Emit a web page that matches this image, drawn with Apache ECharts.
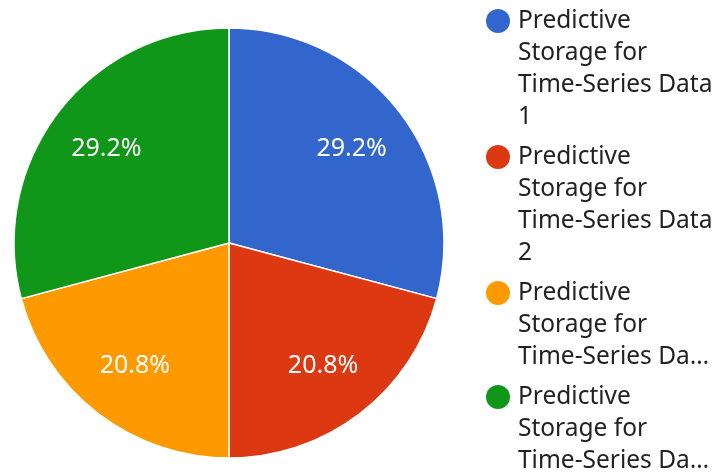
<!DOCTYPE html>
<html>
<head>
<meta charset="utf-8">
<script src="https://cdn.jsdelivr.net/npm/echarts@6/dist/echarts.min.js"></script>
<style>
html, body { margin: 0; padding: 0; background: #fff; }
#main { width: 715px; height: 472px; }
</style>
</head>
<body>
<div id="main"></div>
<script>
var names = [
  'Predictive Storage for Time-Series Data 1',
  'Predictive Storage for Time-Series Data 2',
  'Predictive Storage for Time-Series Data 3',
  'Predictive Storage for Time-Series Data 4'
];
var values = [7, 5, 5, 7];
var colors = ['#3366cc', '#dc3912', '#ff9900', '#109618'];
// legend text as wrapped / cut in the picture
var legendLines = [
  ['Predictive', 'Storage for', 'Time-Series Data', '1'],
  ['Predictive', 'Storage for', 'Time-Series Data', '2'],
  ['Predictive', 'Storage for', 'Time-Series Da…'],
  ['Predictive', 'Storage for', 'Time-Series Da…']
];

var myChart = echarts.init(document.getElementById('main'));

var pieData = names.map(function (n, i) {
  return { name: n, value: values[i], itemStyle: { color: colors[i] } };
});

var rich = {
  t: { fontFamily: 'Noto Sans', fontSize: 24.5, color: '#222222', lineHeight: 32 },
  gap: { width: 8, height: 24, lineHeight: 32 },
  ind: { width: 32, height: 24, lineHeight: 32 }
};
colors.forEach(function (c, i) {
  rich['d' + i] = { width: 24, height: 24, borderRadius: 12, backgroundColor: c, lineHeight: 32 };
});

var option = {
  animation: false,
  legend: {
    orient: 'vertical',
    left: 485,
    top: 5,
    padding: 0,
    itemGap: 8,
    itemWidth: 0,
    itemHeight: 0,
    icon: 'rect',
    selectedMode: false,
    data: names,
    textStyle: { fontFamily: 'Noto Sans', fontSize: 24.5, color: '#222222', lineHeight: 32, padding: [0, 0, 0, -5], rich: rich },
    formatter: function (name) {
      var i = names.indexOf(name);
      return legendLines[i].map(function (l, k) {
        return (k === 0 ? '{d' + i + '|}{gap|}' : '{ind|}') + '{t|' + l + '}';
      }).join('\n');
    }
  },
  series: [
    {
      type: 'pie',
      center: [229, 243],
      radius: [0, 215],
      startAngle: 90,
      clockwise: true,
      label: { show: false },
      labelLine: { show: false },
      emphasis: { disabled: true },
      itemStyle: { borderColor: '#ffffff', borderWidth: 1.5 },
      data: pieData
    },
    {
      type: 'pie',
      center: [229, 243],
      radius: [88, 215],
      startAngle: 90,
      silent: true,
      percentPrecision: 1,
      itemStyle: { color: 'rgba(0,0,0,0)' },
      emphasis: { disabled: true },
      labelLine: { show: false },
      label: {
        show: true,
        position: 'inside',
        formatter: '{d}%',
        color: '#ffffff',
        fontFamily: 'Noto Sans',
        fontSize: 25
      },
      data: names.map(function (n, i) { return { name: n, value: values[i] }; })
    }
  ]
};

myChart.setOption(option);
</script>
</body>
</html>
